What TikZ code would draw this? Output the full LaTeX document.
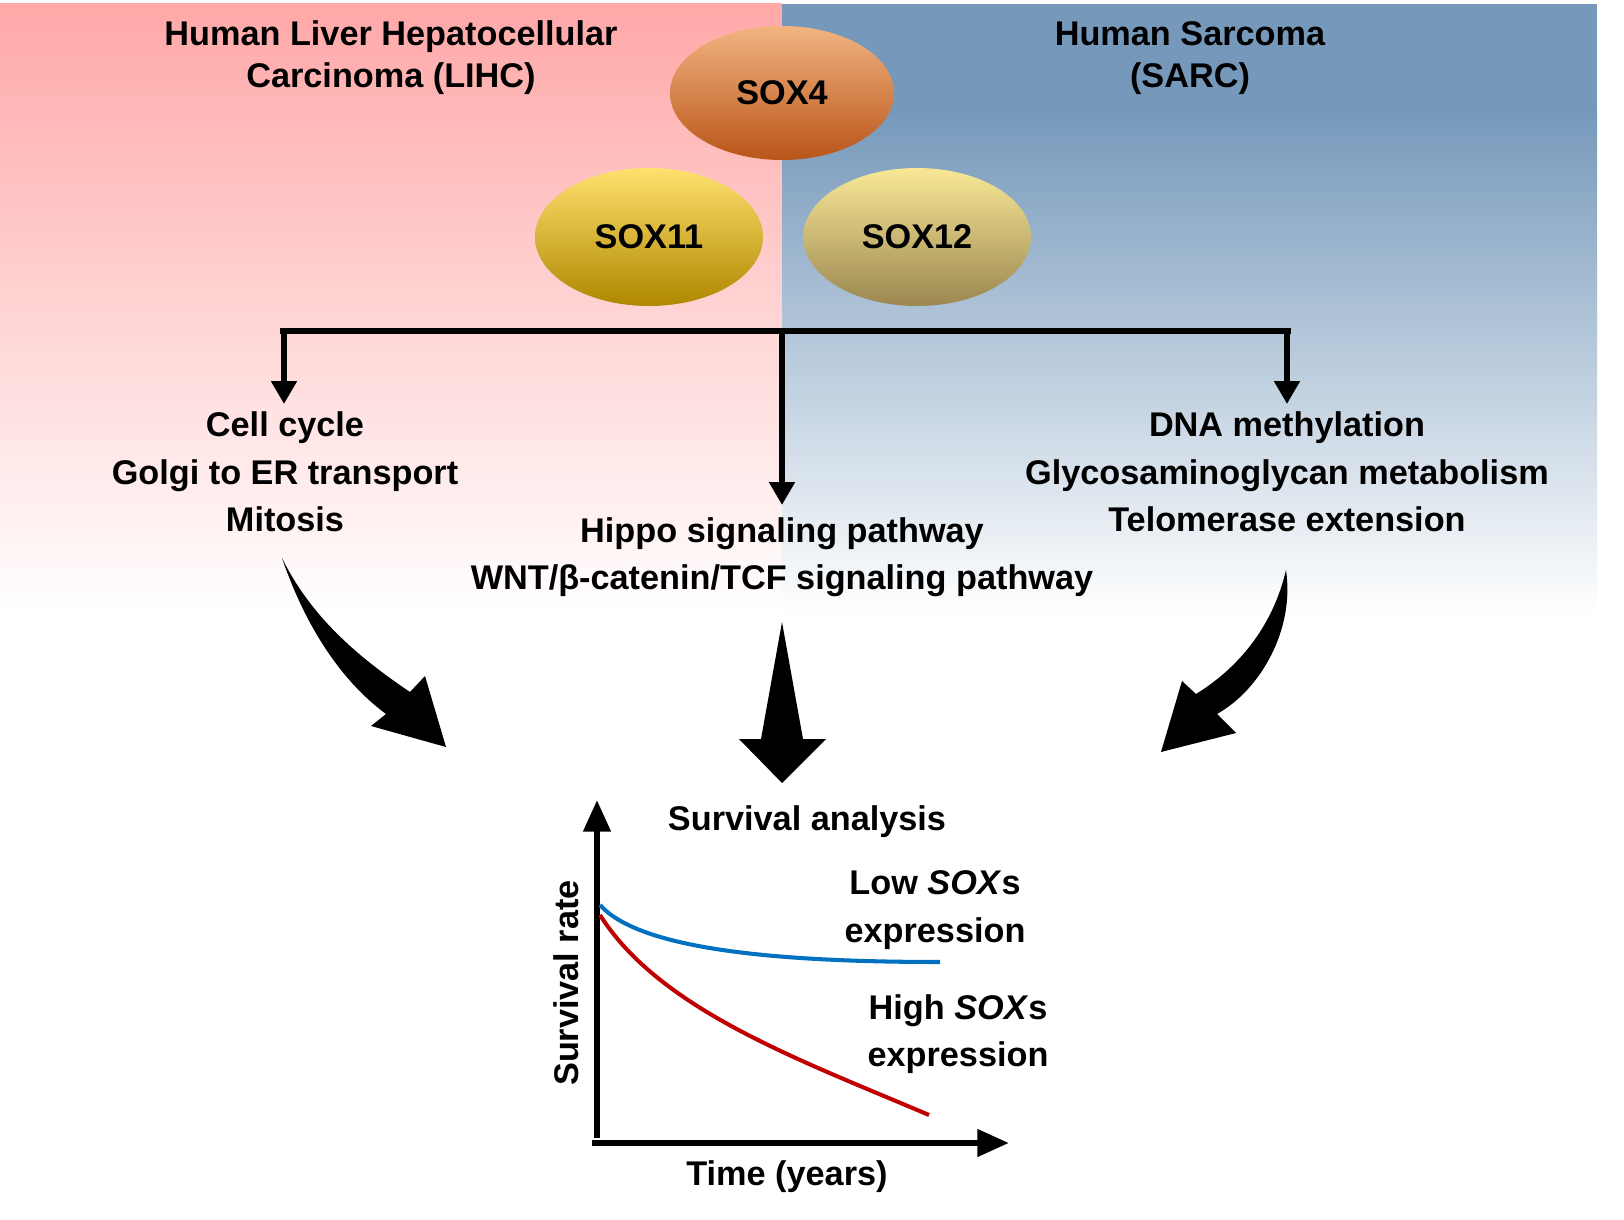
\documentclass[tikz,border=0pt]{standalone}
\usepackage{fontspec}
\setmainfont{Liberation Sans}
\usetikzlibrary{arrows.meta,shapes.geometric}
\definecolor{pinkbg}{RGB}{255,168,168}
\definecolor{bluebg}{RGB}{118,153,187}
\definecolor{o1}{RGB}{242,180,130}\definecolor{o2}{RGB}{236,125,50}\definecolor{o3}{RGB}{185,85,25}
\definecolor{y1}{RGB}{255,225,110}\definecolor{y2}{RGB}{255,192,0}\definecolor{y3}{RGB}{175,135,0}
\definecolor{k1}{RGB}{248,232,150}\definecolor{k2}{RGB}{215,195,115}\definecolor{k3}{RGB}{155,135,80}
\definecolor{cblue}{RGB}{0,112,192}
\definecolor{cred}{RGB}{192,0,0}
\begin{document}
\begin{tikzpicture}[x=0.02cm,y=-0.02cm,
  lbl/.style={font=\bfseries\fontsize{19.5}{24}\selectfont,align=center,inner sep=0},
  sox/.style={ellipse,minimum width=228,minimum height=138,inner sep=0,font=\bfseries\fontsize{19.5}{24}\selectfont},
  bar/.style={line width=3.4pt},
  thin/.style={line width=3.4pt,-{Triangle[width=14pt,length=13pt]}},
  ax/.style={line width=3.6pt,-{Triangle[width=15pt,length=18pt]}},
  big/.style={fill=black}]
\useasboundingbox (0,0) rectangle (1624,1220);
\fill[white] (0,0) rectangle (1624,1220);
% backgrounds
\shade[top color=pinkbg, bottom color=white] (0,4) rectangle (782,615);
\fill[bluebg] (782,4) rectangle (1597,110);
\shade[top color=bluebg, bottom color=white] (782,110) rectangle (1597,615);
% titles
\node[lbl] (lihc) at (391,58) {Human Liver Hepatocellular\\Carcinoma (LIHC)};
\node[lbl] (sarc) at (1190,58) {Human Sarcoma\\(SARC)};
% ellipses
\shade[top color=o1, middle color=o2, bottom color=o3] (782,93) ellipse (112 and 67);
\node[sox] (s4) at (782,93) {SOX4};
\shade[top color=y1, middle color=y2, bottom color=y3] (649,237) ellipse (114 and 69);
\node[sox] (s11) at (649,237) {SOX11};
\shade[top color=k1, middle color=k2, bottom color=k3] (917,237) ellipse (114 and 69);
\node[sox] (s12) at (917,237) {SOX12};
% bracket
\coordinate (bl) at (284,331); \coordinate (bm) at (782,331); \coordinate (br) at (1287,331);
\draw[bar] ([xshift=-2]bl) -- ([xshift=2]br);
\node[lbl] (tl) at (285,472) {Cell cycle\\[3pt]Golgi to ER transport\\[3pt]Mitosis};
\node[lbl] (tm) at (782,557) {Hippo signaling pathway\\[3pt]WNT/β-catenin/TCF signaling pathway};
\node[lbl] (tr) at (1287,472) {DNA methylation\\[3pt]Glycosaminoglycan metabolism\\[3pt]Telomerase extension};
\coordinate (al) at (284,404); \coordinate (am) at (782,505); \coordinate (ar) at (1287,404);
\draw[thin] (bl) -- (al);
\draw[thin] (bm) -- (am);
\draw[thin] (br) -- (ar);
% big arrows
\fill[big] (282,558) .. controls (305,625) and (340,680) .. (386,714) -- (371,726) -- (446,747) -- (425,676) -- (410,692) .. controls (355,655) and (310,615) .. cycle;
\fill[big] (782,622) -- (803,739) -- (826,739) -- (782,783) -- (739,739) -- (761,739) -- cycle;
\fill[big] (1286,570) .. controls (1295,630) and (1260,690) .. (1217,714) -- (1236,733) -- (1161,752) -- (1182,681) -- (1196,694) .. controls (1235,670) and (1272,630) .. cycle;
% chart
\coordinate (o) at (597,1143);
\coordinate (yt) at (597,800);
\coordinate (xt) at (1009,1143);
\draw[ax] ([yshift=3]o) -- (yt);
\draw[ax] ([xshift=-3]o) -- (xt);
\draw[line width=2.3pt,cblue] (600,905) .. controls (640,950) and (780,962) .. (940,962);
\draw[line width=2.3pt,cred] (600,915) .. controls (660,1010) and (800,1060) .. (929,1115);
\node[lbl] (sa) at (807,822) {Survival analysis};
\node[lbl] (low) at (935,910) {Low \textit{SOX}s\\[3pt]expression};
\node[lbl] (high) at (958,1034) {High \textit{SOX}s\\[3pt]expression};
\node[lbl] (time) at (787,1177) {Time (years)};
\node[lbl,rotate=90] (sr) at (566,983) {Survival rate};
\end{tikzpicture}
\end{document}
